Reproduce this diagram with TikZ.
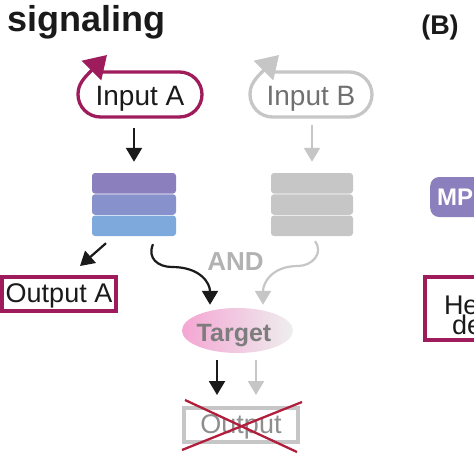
\documentclass[tikz,border=0pt]{standalone}
\usepackage{fontspec}
\setmainfont{Liberation Sans}
\usetikzlibrary{arrows.meta,shapes.geometric}
\definecolor{crim}{RGB}{158,28,92}
\definecolor{lgray}{RGB}{198,198,198}
\definecolor{tgray}{RGB}{112,112,112}
\definecolor{andgray}{RGB}{178,178,178}
\definecolor{targray}{RGB}{125,125,125}
\definecolor{outgray}{RGB}{142,142,142}
\definecolor{sA}{RGB}{139,127,189}
\definecolor{sB}{RGB}{135,146,204}
\definecolor{sC}{RGB}{126,169,220}
\definecolor{sG}{RGB}{198,198,198}
\definecolor{xred}{RGB}{176,30,60}
\definecolor{ink}{RGB}{26,26,26}
\definecolor{pinkL}{RGB}{244,166,211}
\definecolor{pinkM}{RGB}{243,188,221}
\definecolor{pinkR}{RGB}{238,238,238}
\newcommand\fsz[1]{\fontsize{#1}{#1}\selectfont}
\begin{document}
\begin{tikzpicture}[x=1pt,y=-1pt,
  arr/.style={draw=ink, line width=2.2pt, -{Triangle[length=14pt,width=16pt]}},
  garr/.style={draw=lgray, line width=2.2pt, -{Triangle[length=14pt,width=16pt]}},
  slab/.style={rounded corners=3pt, minimum width=84pt, minimum height=20.5pt, inner sep=0pt},
  gslab/.style={slab, minimum width=82pt, fill=sG},
  loopline/.style={line width=3.3pt, -{Triangle[length=22pt,width=27pt]}},
  inbox/.style={minimum width=124pt, minimum height=45pt, inner sep=0pt, text height=22pt, text depth=0pt, font=\fsz{28}},
  outbox/.style={line width=4pt, minimum width=114pt, minimum height=34pt, inner sep=0pt, text height=18pt, text depth=2pt, font=\fsz{27}},
  xline/.style={draw=xred, line width=2.3pt},
  lbl/.style={inner sep=0pt, anchor=base}
]
\useasboundingbox (0,0) rectangle (474,474);
\clip (0,0) rectangle (474,474);

% titles
\node[lbl, anchor=base west, font=\fsz{36}\bfseries, text=ink] (title) at (7,31) {signaling};
\node[lbl, font=\fsz{27}\bfseries, text=ink] (blabel) at (440,34) {(B)};

% input loops
\draw[loopline, draw=crim, fill=none] (100,72) -- (179.5,72)
  .. controls (191.9,72) and (202,82.1) .. (202,94.5)
  .. controls (202,106.9) and (191.9,117) .. (179.5,117) -- (100.5,117)
  .. controls (88.1,117) and (78,106.9) .. (78,94.5)
  .. controls (78,84) and (84,78) .. (107,55);
\begin{scope}[xshift=172pt]
\draw[loopline, draw=lgray, fill=none] (100,72) -- (177.5,72)
  .. controls (189.9,72) and (200,82.1) .. (200,94.5)
  .. controls (200,106.9) and (189.9,117) .. (177.5,117) -- (100.5,117)
  .. controls (88.1,117) and (78,106.9) .. (78,94.5)
  .. controls (78,84) and (84,78) .. (107,55);
\end{scope}
\node[inbox, text=ink] (inA) at (140,94.5) {Input A};
\node[inbox, text=tgray] (inB) at (311,94.5) {Input B};

% stacks
\node[slab, fill=sA] (a1) at (134,183.25) {};
\node[slab, fill=sB] (a2) at (134,204.5) {};
\node[slab, fill=sC] (a3) at (134,225.75) {};
\node[gslab] (g1) at (312,183.25) {};
\node[gslab] (g2) at (312,204.5) {};
\node[gslab] (g3) at (312,225.75) {};

\draw[arr, shorten <=11pt, shorten >=11pt] (a1.north |- inA.south) -- (a1.north);
\draw[garr, shorten <=8pt, shorten >=11pt] (g1.north |- inB.south) -- (g1.north);

% output A
\node[outbox, draw=crim, text=ink] (outA) at (59,294) {Output A};
\draw[arr] ([xshift=-28pt,yshift=-7pt]a3.south) -- ([xshift=21pt,yshift=9pt]outA.north);

% AND
\node[lbl, font=\fsz{26}\bfseries, text=andgray] (andl) at (235.5,270) {AND};

% target
\node[ellipse, minimum width=111pt, minimum height=45pt, inner sep=0pt,
      left color=pinkL, middle color=pinkM, right color=pinkR,
      font=\fsz{25}\bfseries, text=targray, text height=22pt, text depth=0pt] (tgt) at (237.5,330.5) {\hspace*{-7pt}Target};

\coordinate (bm) at (172,267);
\coordinate (gm) at (298,266);
\draw[arr] ([xshift=19pt,yshift=-8pt]a3.south) .. controls +(-6,14) and +(-14,0) .. (bm)
  .. controls +(28,0) and +(0,-22) .. ([xshift=-27.5pt,yshift=3pt]tgt.north);
\draw[garr] ([xshift=3pt,yshift=-5pt]g3.south) .. controls +(9,12) and +(14,0) .. (gm)
  .. controls +(-26,0) and +(0,-22) .. ([xshift=25.5pt,yshift=3pt]tgt.north);

% output
\node[outbox, draw=lgray, text=outgray] (out) at (241,425) {Output};
\draw[arr, shorten <=7pt, shorten >=11pt] ([xshift=-20.5pt]tgt.south) -- ([xshift=-24pt]out.north);
\draw[garr, shorten <=7pt, shorten >=11pt] ([xshift=18.5pt]tgt.south) -- ([xshift=15pt]out.north);
\draw[xline] ([shift={(-56,-25)}]out.center) -- ([shift={(56,27)}]out.center);
\draw[xline] ([shift={(-59,25)}]out.center) -- ([shift={(61,-23)}]out.center);

% right column (cut off)
\node[anchor=west, fill=sA, rounded corners=9pt, minimum height=40pt, inner xsep=7pt, inner ysep=0pt,
      text width=70pt, text=white, font=\fsz{24}\bfseries, text height=17pt, text depth=1pt] (mp) at (430,197) {MP};
\node[anchor=west, draw=crim, line width=4pt, minimum width=100pt, minimum height=63pt,
      inner xsep=19pt, inner ysep=0pt, text width=80pt, align=left, text depth=6pt,
      font=\fontsize{27}{20}\selectfont, text=ink] (heb) at (423,308.5) {He\\\hspace*{8pt}de};
\end{tikzpicture}
\end{document}
